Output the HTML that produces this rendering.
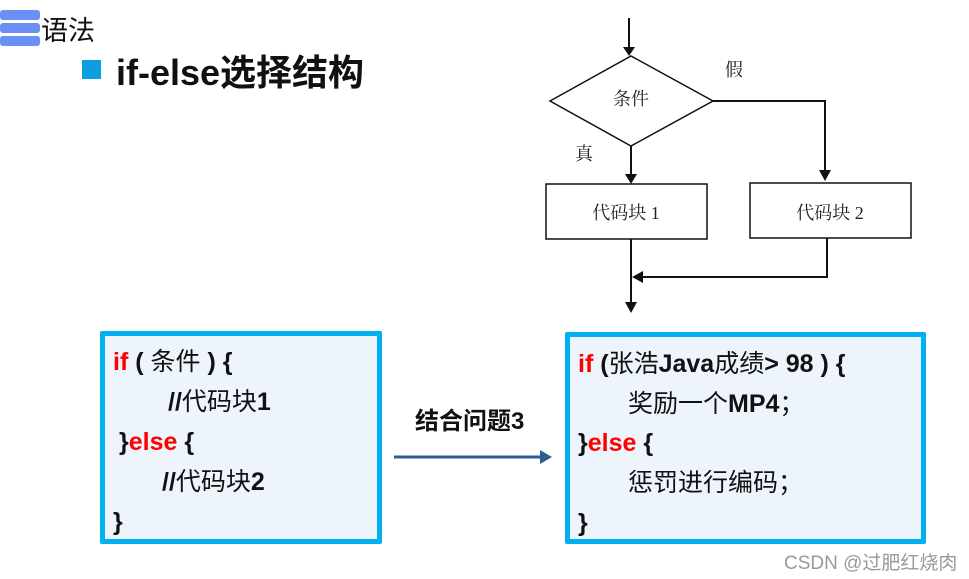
<!DOCTYPE html>
<html><head><meta charset="utf-8"><style>
body{margin:0;width:969px;height:579px;background:#fff;position:relative;overflow:hidden;font-family:"Liberation Sans","Noto Sans CJK SC",sans-serif}
.a{position:absolute;white-space:nowrap}
.box{position:absolute;border:5px solid #00b0f0;background:#edf4fc;box-sizing:border-box;border-radius:2px}
.code{font-weight:bold;font-size:25px;color:#111;line-height:30px;height:30px}
.r{color:#ff0000}
</style></head><body>
<div class="a" style="left:0;top:10px;width:40px;height:10px;background:#6a8ff5;border-radius:3px"></div>
<div class="a" style="left:0;top:23px;width:40px;height:10px;background:#6a8ff5;border-radius:3px"></div>
<div class="a" style="left:0;top:36px;width:40px;height:10px;background:#6a8ff5;border-radius:3px"></div>
<div class="a" style="left:41px;top:14px;font-size:27px;line-height:34px;color:#111">语法</div>
<div class="a" style="left:82px;top:60px;width:19px;height:19px;background:#0e9de0"></div>
<div class="a" style="left:116px;top:51px;font-size:36px;line-height:44px;font-weight:bold;color:#111">if-else选择结构</div>

<svg class="a" style="left:0;top:0" width="969" height="579">
<g stroke="#111" stroke-width="2" fill="none">
<line x1="629" y1="18" x2="629" y2="48"/>
<polygon points="550,101 631,56 713,101 631,146" stroke-width="1.5"/>
<polyline points="713,101 825,101 825,171"/>
<line x1="631" y1="146" x2="631" y2="174"/>
<rect x="546" y="184" width="161" height="55" stroke-width="1.5"/>
<rect x="750" y="183" width="161" height="55" stroke-width="1.5"/>
<line x1="631" y1="239" x2="631" y2="303"/>
<polyline points="827,238 827,277 642,277"/>
</g>
<g fill="#111">
<polygon points="623,47 635,47 629,56"/>
<polygon points="819,170 831,170 825,181"/>
<polygon points="625,174 637,174 631,184"/>
<polygon points="625,302 637,302 631,313"/>
<polygon points="632,277 643,271 643,283"/>
</g>
<g font-family="Liberation Serif,Noto Serif CJK SC,serif" font-size="18" fill="#222">
<text x="631" y="105" text-anchor="middle">条件</text>
<text x="725" y="76">假</text>
<text x="575" y="160">真</text>
<text x="626" y="219" text-anchor="middle">代码块 1</text>
<text x="830" y="219" text-anchor="middle">代码块 2</text>
</g>
<line x1="394" y1="457" x2="542" y2="457" stroke="#2f5b93" stroke-width="3"/>
<polygon points="540,450 552,457 540,464" fill="#2f5b93"/>
</svg>

<div class="box" style="left:100px;top:331px;width:282px;height:213px"></div>
<div class="a code" style="left:113px;top:347px"><span class="r">if</span> ( <span style="font-weight:normal">条件</span> ) {</div>
<div class="a code" style="left:168px;top:387px">//<span style="font-weight:normal">代码块</span>1</div>
<div class="a code" style="left:119px;top:427px">}<span class="r">else</span> {</div>
<div class="a code" style="left:162px;top:467px">//<span style="font-weight:normal">代码块</span>2</div>
<div class="a code" style="left:113px;top:507px">}</div>

<div class="a code" style="left:415px;top:407px;font-size:24px">结合问题3</div>

<div class="box" style="left:565px;top:332px;width:361px;height:212px"></div>
<div class="a code" style="left:578px;top:349px"><span class="r">if</span> (<span style="font-weight:normal">张浩</span>Java<span style="font-weight:normal">成绩</span>&gt; 98 ) {</div>
<div class="a code" style="left:628px;top:389px"><span style="font-weight:normal">奖励一个</span>MP4<span style="font-weight:normal">；</span></div>
<div class="a code" style="left:578px;top:428px">}<span class="r">else</span> {</div>
<div class="a code" style="left:628px;top:468px;font-weight:normal">惩罚进行编码；</div>
<div class="a code" style="left:578px;top:508px">}</div>

<div class="a" style="left:784px;top:548px;font-size:19px;color:#999">CSDN @过肥红烧肉</div>
</body></html>
